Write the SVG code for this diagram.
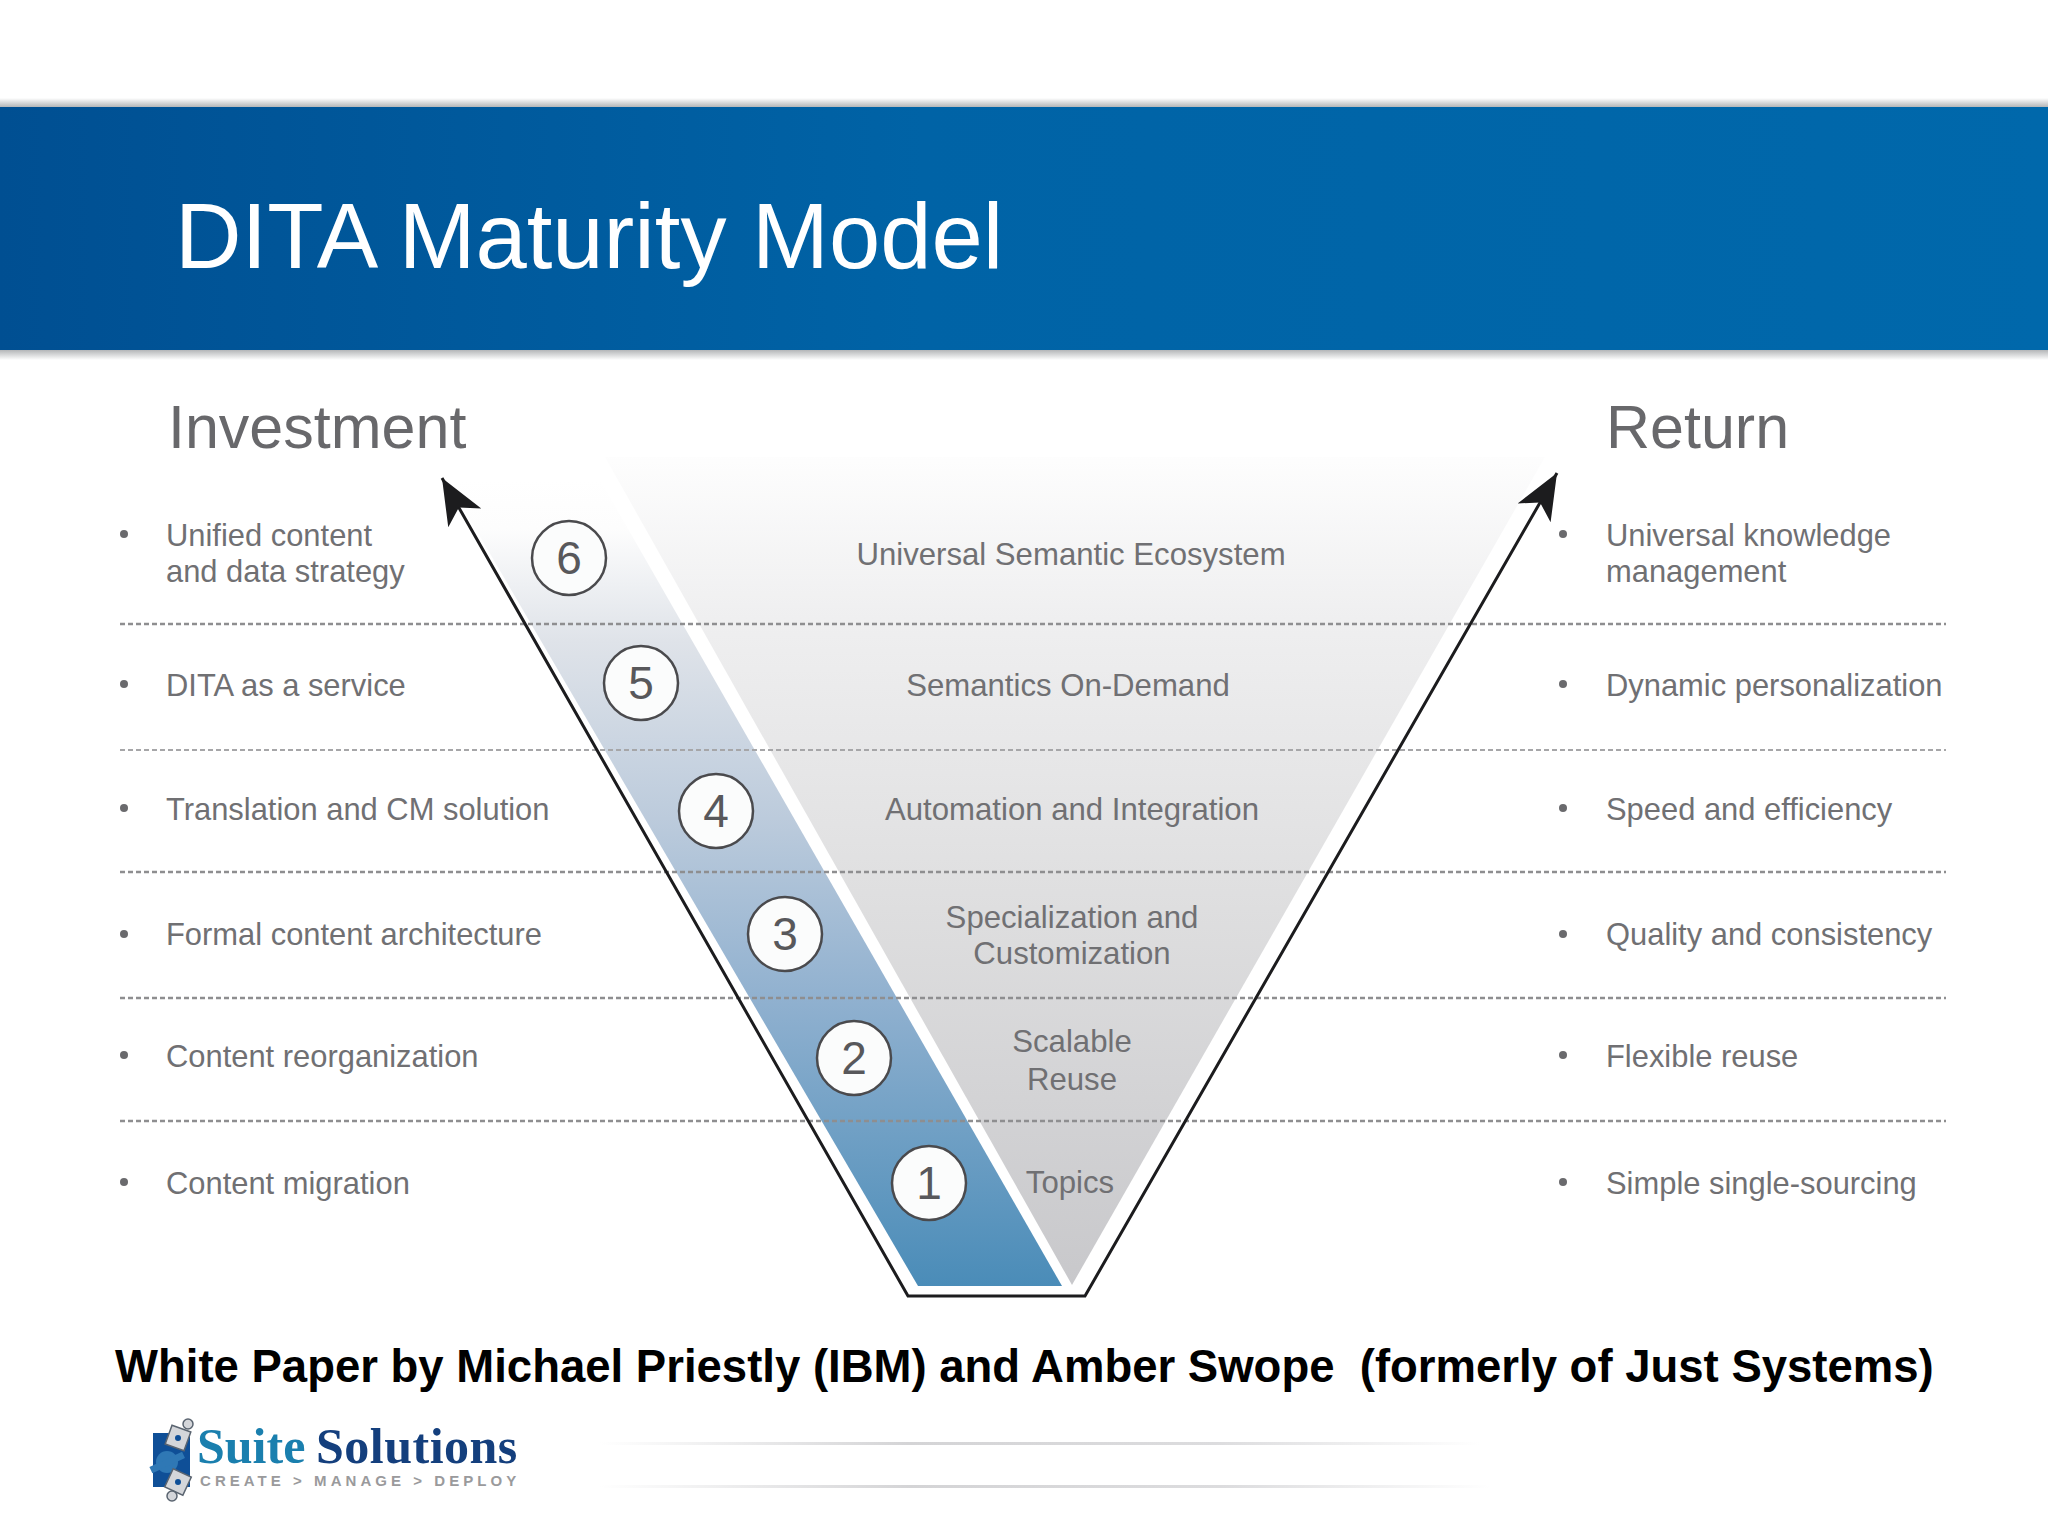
<svg xmlns="http://www.w3.org/2000/svg" width="2048" height="1536" viewBox="0 0 2048 1536">
<style>
text{font-family:"Liberation Sans",Arial,sans-serif}
.item{font-size:30.9px;fill:#707073}
.mid{font-size:31.15px;fill:#707073;text-anchor:middle}
.head{font-size:61px;fill:#68686b}
.num{font-size:46px;fill:#58585b;text-anchor:middle}
.bul{fill:#6a6a6d}
.dash{stroke:#8e8e90;stroke-width:2.5;stroke-dasharray:5 3;fill:none}
.dash2{stroke:#a6a6a8;stroke-width:2;stroke-dasharray:5 3;fill:none}
.circ{fill:#fbfcfc;stroke:#4a4a4d;stroke-width:2.5}
.conn{fill:none;stroke:#1c1c1e;stroke-width:3}
.gear{fill:#d4d6da;stroke:#5a6470;stroke-width:1.5}
</style>
<defs>
<linearGradient id="hdr" x1="0" x2="1" y1="0" y2="0"><stop offset="0" stop-color="#004f92"/><stop offset=".45" stop-color="#0063a6"/><stop offset="1" stop-color="#0068ab"/></linearGradient>
<linearGradient id="shT" x1="0" x2="0" y1="0" y2="1"><stop offset="0" stop-color="#fff"/><stop offset="1" stop-color="#b4b6b8"/></linearGradient>
<linearGradient id="shB" x1="0" x2="0" y1="0" y2="1"><stop offset="0" stop-color="#b4b6b8"/><stop offset="1" stop-color="#fff"/></linearGradient>
<linearGradient id="gr" gradientUnits="userSpaceOnUse" x1="0" x2="0" y1="450" y2="1285"><stop offset="0" stop-color="#fefefe"/><stop offset=".2" stop-color="#efeff0"/><stop offset=".55" stop-color="#dededf"/><stop offset="1" stop-color="#c8c8cb"/></linearGradient>
<linearGradient id="bl" gradientUnits="userSpaceOnUse" x1="0" x2="0" y1="480" y2="1286"><stop offset="0" stop-color="#fff"/><stop offset=".06" stop-color="#fdfdfd"/><stop offset=".2" stop-color="#dfe3e9"/><stop offset=".42" stop-color="#bccbdc"/><stop offset=".65" stop-color="#8fb0cf"/><stop offset="1" stop-color="#4a8cb8"/></linearGradient>
<linearGradient id="fade" x1="0" x2="1" y1="0" y2="0"><stop offset="0" stop-color="#fff"/><stop offset=".35" stop-color="#d4d4d6"/><stop offset=".7" stop-color="#dcdcde"/><stop offset="1" stop-color="#fff"/></linearGradient>
<marker id="arr" markerUnits="userSpaceOnUse" markerWidth="52" markerHeight="44" refX="46" refY="22" orient="auto-start-reverse"><path d="M46,22 L0,3 L12,22 L0,41 Z" fill="#1c1c1e"/></marker>
</defs>
<rect width="2048" height="1536" fill="#fff"/>
<g id="header">
<rect y="98" width="2048" height="9" fill="url(#shT)"/>
<rect y="107" width="2048" height="243" fill="url(#hdr)"/>
<rect y="350" width="2048" height="10" fill="url(#shB)"/>
<text x="175" y="268" font-size="92.2" fill="#fff">DITA Maturity Model</text>
</g>
<g id="funnel">
<polygon points="605,457 1545,457 1072,1285" fill="url(#gr)"/>
<polygon points="447,480 600,480 1062,1286 918,1286" fill="url(#bl)"/>
</g>
<g id="separators">
<line class="dash" x1="120" x2="1946" y1="624" y2="624"/>
<line class="dash2" x1="120" x2="1946" y1="750" y2="750"/>
<line class="dash" x1="120" x2="1946" y1="872" y2="872"/>
<line class="dash" x1="120" x2="1946" y1="998" y2="998"/>
<line class="dash" x1="120" x2="1946" y1="1121" y2="1121"/>
</g>
<g id="connectors">
<path class="conn" d="M442,478 L908,1296 L1085,1296 L1557,473" marker-start="url(#arr)" marker-end="url(#arr)"/>
</g>
<g id="investment-head"><text class="head" x="168" y="448">Investment</text></g>
<g id="return-head"><text class="head" x="1606" y="448">Return</text></g>
<g id="inv-6"><circle class="bul" cx="124" cy="534" r="4"/><text class="item" x="166" y="546">Unified content</text><text class="item" x="166" y="582">and data strategy</text></g>
<g id="inv-5"><circle class="bul" cx="124" cy="684" r="4"/><text class="item" x="166" y="696">DITA as a service</text></g>
<g id="inv-4"><circle class="bul" cx="124" cy="808" r="4"/><text class="item" x="166" y="820">Translation and CM solution</text></g>
<g id="inv-3"><circle class="bul" cx="124" cy="934" r="4"/><text class="item" x="166" y="945">Formal content architecture</text></g>
<g id="inv-2"><circle class="bul" cx="124" cy="1055" r="4"/><text class="item" x="166" y="1067">Content reorganization</text></g>
<g id="inv-1"><circle class="bul" cx="124" cy="1182" r="4"/><text class="item" x="166" y="1194">Content migration</text></g>
<g id="ret-6"><circle class="bul" cx="1563" cy="534" r="4"/><text class="item" x="1606" y="546">Universal knowledge</text><text class="item" x="1606" y="582">management</text></g>
<g id="ret-5"><circle class="bul" cx="1563" cy="684" r="4"/><text class="item" x="1606" y="696">Dynamic personalization</text></g>
<g id="ret-4"><circle class="bul" cx="1563" cy="808" r="4"/><text class="item" x="1606" y="820">Speed and efficiency</text></g>
<g id="ret-3"><circle class="bul" cx="1563" cy="934" r="4"/><text class="item" x="1606" y="945">Quality and consistency</text></g>
<g id="ret-2"><circle class="bul" cx="1563" cy="1055" r="4"/><text class="item" x="1606" y="1067">Flexible reuse</text></g>
<g id="ret-1"><circle class="bul" cx="1563" cy="1182" r="4"/><text class="item" x="1606" y="1194">Simple single-sourcing</text></g>
<g id="level-6"><circle class="circ" cx="569" cy="558" r="37"/><text class="num" x="569" y="574">6</text><text class="mid" x="1071" y="565">Universal Semantic Ecosystem</text></g>
<g id="level-5"><circle class="circ" cx="641" cy="683" r="37"/><text class="num" x="641" y="699">5</text><text class="mid" x="1068" y="696">Semantics On-Demand</text></g>
<g id="level-4"><circle class="circ" cx="716" cy="811" r="37"/><text class="num" x="716" y="827">4</text><text class="mid" x="1072" y="820">Automation and Integration</text></g>
<g id="level-3"><circle class="circ" cx="785" cy="934" r="37"/><text class="num" x="785" y="950">3</text><text class="mid" x="1072" y="928">Specialization and</text><text class="mid" x="1072" y="964">Customization</text></g>
<g id="level-2"><circle class="circ" cx="854" cy="1058" r="37"/><text class="num" x="854" y="1074">2</text><text class="mid" x="1072" y="1052">Scalable</text><text class="mid" x="1072" y="1090">Reuse</text></g>
<g id="level-1"><circle class="circ" cx="929" cy="1183" r="37"/><text class="num" x="929" y="1199">1</text><text class="mid" x="1070" y="1193">Topics</text></g>
<g id="caption"><text x="115" y="1382" font-size="45.5" font-weight="700" fill="#000" style="white-space:pre">White Paper by Michael Priestly (IBM) and Amber Swope  (formerly of Just Systems)</text></g>
<g id="logo">
<rect x="153" y="1433" width="37" height="54" fill="#0f4f97"/>
<circle cx="167" cy="1462" r="11" fill="#2f78b5"/><rect x="149" y="1459" width="36" height="7" fill="#2f78b5" transform="rotate(-25 167 1462)"/>
<rect x="168" y="1428" width="20" height="20" class="gear" transform="rotate(20 178 1438)"/><circle cx="188" cy="1424" r="5" class="gear"/><circle cx="178" cy="1438" r="3" fill="#0f4f97"/>
<rect x="168" y="1472" width="20" height="20" class="gear" transform="rotate(25 178 1482)"/><circle cx="172" cy="1496" r="5" class="gear"/><circle cx="178" cy="1482" r="3" fill="#0f4f97"/>
<text x="197" y="1463" font-size="50" font-weight="700" style="font-family:'Liberation Serif',serif" fill="#1a7fae">Suite</text>
<text x="316" y="1463" font-size="50" font-weight="700" style="font-family:'Liberation Serif',serif" fill="#143f7d" letter-spacing="0.5">Solutions</text>
<text x="200" y="1486" font-size="15" font-weight="700" fill="#9a9a9c" letter-spacing="4.05">CREATE &gt; MANAGE &gt; DEPLOY</text>
</g>
<g id="footer-rules">
<rect x="600" y="1442" width="880" height="3" fill="url(#fade)"/>
<rect x="600" y="1485" width="890" height="3" fill="url(#fade)"/>
</g>
</svg>
